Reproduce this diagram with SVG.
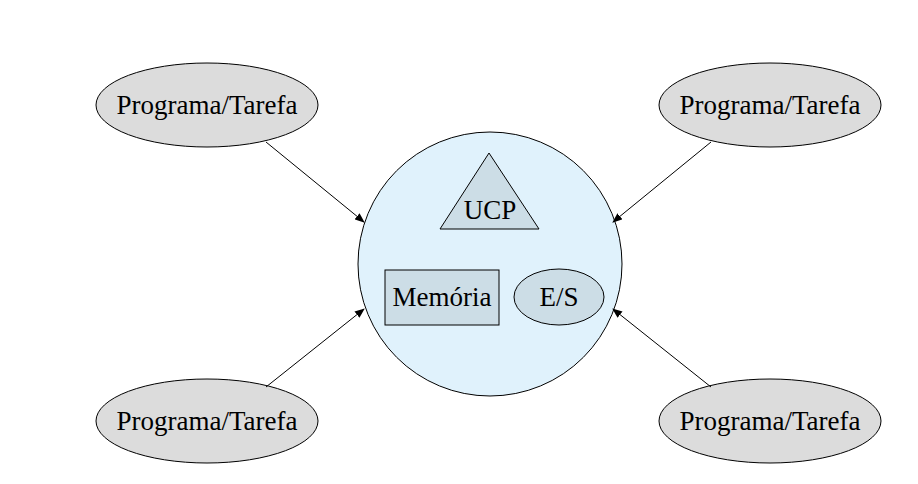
<svg xmlns="http://www.w3.org/2000/svg" width="918" height="484" viewBox="0 0 918 484">
<style>
.p{fill:#dcdcdc;stroke:#000;stroke-width:1}
.t{font-family:"Liberation Serif",serif;font-size:27px;fill:#000;text-anchor:middle}
.c{stroke:#000;stroke-width:1;fill:none;marker-end:url(#a)}
.in{fill:#ccdde6;stroke:#000;stroke-width:1}
</style>
<defs><marker id="a" markerWidth="10" markerHeight="8" refX="9" refY="4" orient="auto" markerUnits="userSpaceOnUse"><path d="M0,0L10,4L0,8z" fill="#000"/></marker></defs>
<rect width="918" height="484" fill="#fff"/>
<g id="sys">
<circle cx="490" cy="264" r="132" fill="#e0f2fc" stroke="#000"/>
<polygon class="in" points="489,153 440,229 539,229"/><text class="t" x="490" y="219">UCP</text>
<rect class="in" x="385" y="270" width="114" height="55"/><text class="t" x="442" y="306">Memória</text>
<ellipse class="in" cx="559" cy="297" rx="45" ry="28"/><text class="t" x="559" y="306">E/S</text>
</g>
<g id="p1"><ellipse class="p" cx="207" cy="105" rx="111" ry="42"/><text class="t" x="207" y="114">Programa/Tarefa</text></g>
<g id="p2"><ellipse class="p" cx="770" cy="105" rx="111" ry="42"/><text class="t" x="770" y="114">Programa/Tarefa</text></g>
<g id="p3"><ellipse class="p" cx="207" cy="421" rx="111" ry="42"/><text class="t" x="207" y="430">Programa/Tarefa</text></g>
<g id="p4"><ellipse class="p" cx="770" cy="421" rx="111" ry="42"/><text class="t" x="770" y="430">Programa/Tarefa</text></g>
<g id="connectors">
<line class="c" x1="266" y1="142" x2="364" y2="222"/>
<line class="c" x1="711" y1="142" x2="613" y2="222"/>
<line class="c" x1="266" y1="387" x2="364" y2="309"/>
<line class="c" x1="711" y1="387" x2="613" y2="309"/>
</g>
</svg>
